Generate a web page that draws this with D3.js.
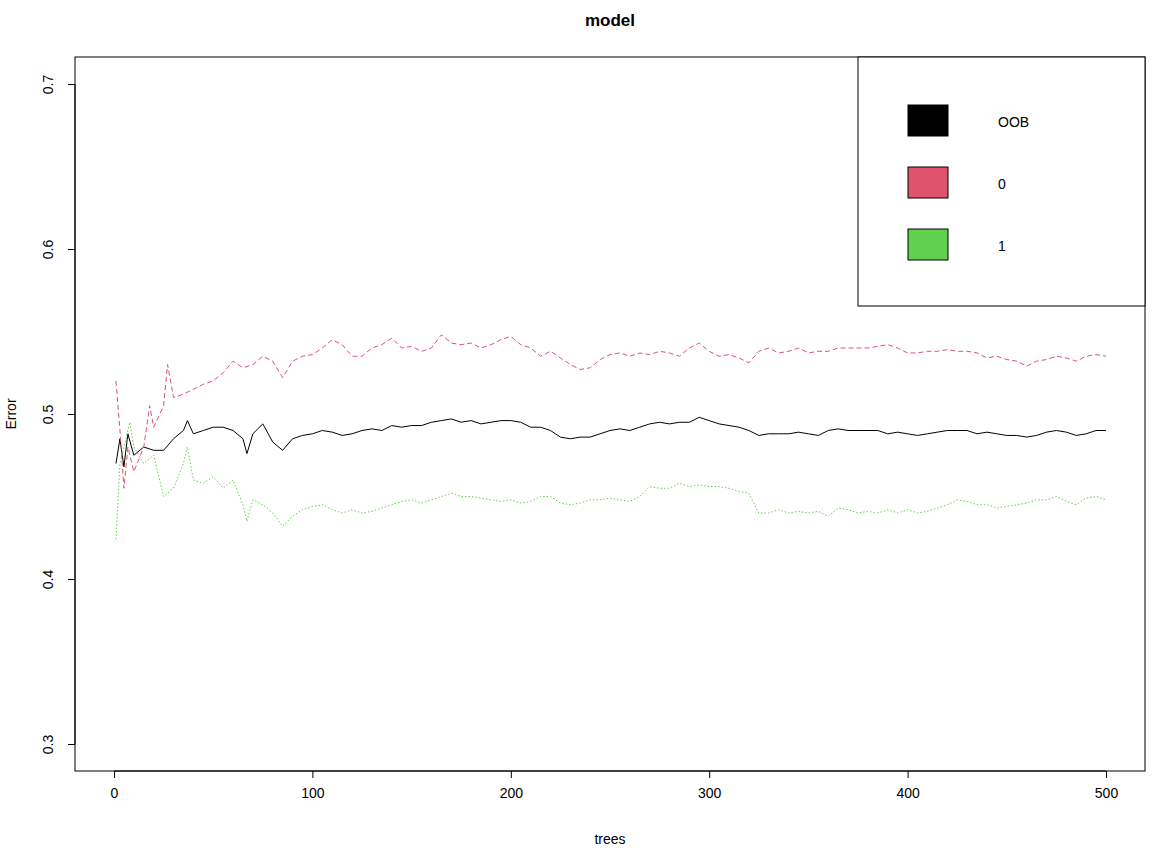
<!DOCTYPE html>
<html><head><meta charset="utf-8">
<script src="https://cdn.jsdelivr.net/npm/d3@7"></script>
<style>body{margin:0;background:#fff}text{font-family:Arial,"Liberation Sans",sans-serif}</style>
</head><body><svg id="c" width="1160" height="851"></svg>
<script>
// [tree, error]
var oob=[[1,.47],[3,.485],[5,.468],[7,.488],[10,.475],[15,.48],[20,.478],[25,.478],[30,.485],[35,.49],[37,.496],[40,.488],[45,.49],[50,.492],[55,.492],[60,.49],[65,.485],[67,.476],[70,.488],[75,.494],[80,.483],[85,.478],[90,.485],[95,.487],[100,.488],[105,.49],[110,.489],[115,.487],[120,.488],[125,.49],[130,.491],[135,.49],[140,.493],[145,.492],[150,.493],[155,.493],[160,.495],[165,.496],[170,.497],[175,.495],[180,.496],[185,.494],[190,.495],[195,.496],[200,.496],[205,.495],[210,.492],[215,.492],[220,.49],[225,.486],[230,.485],[235,.486],[240,.486],[245,.488],[250,.49],[255,.491],[260,.49],[265,.492],[270,.494],[275,.495],[280,.494],[285,.495],[290,.495],[295,.498],[300,.496],[305,.494],[310,.493],[315,.492],[320,.49],[325,.487],[330,.488],[335,.488],[340,.488],[345,.489],[350,.488],[355,.487],[360,.49],[365,.491],[370,.49],[375,.49],[380,.49],[385,.49],[390,.488],[395,.489],[400,.488],[405,.487],[410,.488],[415,.489],[420,.49],[425,.49],[430,.49],[435,.488],[440,.489],[445,.488],[450,.487],[455,.487],[460,.486],[465,.487],[470,.489],[475,.49],[480,.489],[485,.487],[490,.488],[495,.49],[500,.49]];
var err0=[[1,.52],[3,.49],[5,.455],[7,.48],[10,.465],[15,.48],[18,.505],[20,.492],[25,.505],[27,.53],[30,.51],[35,.512],[40,.515],[45,.518],[50,.52],[55,.525],[60,.532],[65,.528],[70,.53],[75,.535],[80,.532],[85,.522],[90,.532],[95,.535],[100,.536],[105,.54],[110,.545],[115,.542],[120,.535],[125,.535],[130,.54],[135,.542],[140,.546],[145,.54],[150,.541],[155,.538],[160,.54],[165,.548],[170,.543],[175,.542],[180,.543],[185,.54],[190,.542],[195,.545],[200,.547],[205,.542],[210,.54],[215,.535],[220,.538],[225,.534],[230,.53],[235,.527],[240,.528],[245,.533],[250,.536],[255,.537],[260,.535],[265,.537],[270,.536],[275,.538],[280,.537],[285,.535],[290,.54],[295,.543],[300,.538],[305,.535],[310,.536],[315,.534],[320,.531],[325,.538],[330,.54],[335,.537],[340,.538],[345,.54],[350,.537],[355,.538],[360,.538],[365,.54],[370,.54],[375,.54],[380,.54],[385,.541],[390,.542],[395,.54],[400,.537],[405,.537],[410,.538],[415,.538],[420,.539],[425,.538],[430,.538],[435,.537],[440,.534],[445,.535],[450,.533],[455,.532],[460,.529],[465,.532],[470,.533],[475,.535],[480,.534],[485,.532],[490,.535],[495,.536],[500,.535]];
var err1=[[1,.424],[3,.47],[5,.48],[8,.495],[10,.48],[15,.47],[20,.475],[25,.45],[30,.455],[35,.47],[37,.48],[40,.46],[45,.458],[50,.462],[55,.455],[60,.46],[65,.445],[67,.435],[70,.448],[75,.445],[80,.44],[85,.432],[90,.438],[95,.442],[100,.444],[105,.445],[110,.442],[115,.44],[120,.442],[125,.44],[130,.441],[135,.443],[140,.445],[145,.447],[150,.448],[155,.446],[160,.448],[165,.45],[170,.452],[175,.45],[180,.45],[185,.449],[190,.448],[195,.447],[200,.448],[205,.446],[210,.447],[215,.45],[220,.45],[225,.446],[230,.445],[235,.446],[240,.448],[245,.448],[250,.449],[255,.448],[260,.447],[265,.45],[270,.456],[275,.455],[280,.455],[285,.458],[290,.456],[295,.457],[300,.456],[305,.456],[310,.455],[315,.453],[320,.452],[325,.44],[330,.44],[335,.442],[340,.44],[345,.441],[350,.44],[355,.441],[360,.438],[365,.443],[370,.442],[375,.44],[380,.441],[385,.44],[390,.442],[395,.44],[400,.442],[405,.44],[410,.441],[415,.443],[420,.445],[425,.448],[430,.447],[435,.445],[440,.445],[445,.443],[450,.444],[455,.445],[460,.446],[465,.448],[470,.448],[475,.45],[480,.447],[485,.445],[490,.449],[495,.45],[500,.448]];
var seriesNames=["OOB","0","1"];
var seriesColors=["#000000","#DF536B","#61D04F"];
var xTicks=[0,100,200,300,400,500];
var yTicks=[0.3,0.4,0.5,0.6,0.7];

var svg=d3.select("#c");
var x=d3.scaleLinear().domain([0,500]).range([114,1106]);
var y=d3.scaleLinear().domain([0.3,0.7]).range([744,84]);

svg.append("rect").attr("x",75).attr("y",57).attr("width",1070).attr("height",714)
	.attr("fill","none").attr("stroke","#000");

svg.append("g").attr("transform","translate(0,771)")
	.call(d3.axisBottom(x).tickValues(xTicks).tickSize(7).tickPadding(10))
	.call(function(g){g.select(".domain").attr("d","M114,0H1106");g.selectAll("text").attr("font-size",14);});
svg.append("g").attr("transform","translate(75,0)")
	.call(d3.axisLeft(y).tickValues(yTicks).tickSize(7).tickFormat(d3.format("")))
	.call(function(g){g.select(".domain").attr("d","M0,744V84");
		g.selectAll("text").attr("font-size",14).attr("transform","rotate(-90)")
		.attr("x",0).attr("y",-22).attr("dy",0).attr("text-anchor","middle");});

svg.append("text").attr("x",610).attr("y",26).attr("text-anchor","middle").attr("font-size",17).attr("font-weight","bold").text("model");
svg.append("text").attr("x",610).attr("y",844).attr("text-anchor","middle").attr("font-size",14).text("trees");
svg.append("text").attr("transform","translate(16,414) rotate(-90)").attr("text-anchor","middle").attr("font-size",14).text("Error");

var line=d3.line().x(function(d){return x(d[0]);}).y(function(d){return y(d[1]);});
var dashes=[null,"5,3","1.5,2"];
[oob,err0,err1].forEach(function(s,i){
	svg.append("path").datum(s).attr("d",line).attr("fill","none")
		.attr("stroke",seriesColors[i]).attr("stroke-width",1).attr("stroke-dasharray",dashes[i]);
});

svg.append("rect").attr("x",858).attr("y",57).attr("width",287).attr("height",249).attr("fill","#fff").attr("stroke","#000");
seriesNames.forEach(function(n,i){
	svg.append("rect").attr("x",908).attr("y",105+i*62).attr("width",40).attr("height",31)
		.attr("fill",seriesColors[i]).attr("stroke","#000");
	svg.append("text").attr("x",998).attr("y",127+i*62).attr("font-size",14).text(n);
});
</script></body></html>
